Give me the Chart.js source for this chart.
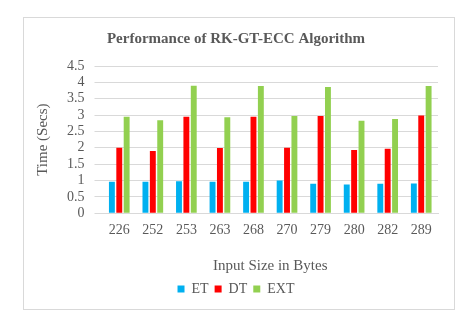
<!DOCTYPE html>
<html>
<head>
<meta charset="utf-8">
<script src="https://cdn.jsdelivr.net/npm/chart.js@4"></script>
<style>
  html, body { margin: 0; padding: 0; background: #fff; }
  #frame {
    position: absolute; left: 23px; top: 17px;
    width: 430px; height: 291px;
    border: 1px solid #d9d9d9;
  }
</style>
</head>
<body>
<div id="frame"><canvas id="chart"></canvas></div>
<script>
const sizes = ['226', '252', '253', '263', '268', '270', '279', '280', '282', '289'];
const etTimes = [0.96, 0.96, 0.975, 0.96, 0.96, 1.0, 0.9, 0.88, 0.9, 0.91];
const dtTimes = [2.0, 1.9, 2.95, 1.99, 2.95, 2.0, 2.97, 1.93, 1.97, 2.99];
const extTimes = [2.95, 2.84, 3.9, 2.93, 3.89, 2.97, 3.86, 2.83, 2.88, 3.89];
const yTicks = [0, 0.5, 1, 1.5, 2, 2.5, 3, 3.5, 4, 4.5];

const serif = "'Liberation Serif', 'Times New Roman', serif";
const grey = '#595959';

const ctx = document.getElementById('chart').getContext('2d');
new Chart(ctx, {
  type: 'bar',
  data: {
    labels: sizes,
    datasets: [
      { label: 'ET', data: etTimes, backgroundColor: '#00b0f0' },
      { label: 'DT', data: dtTimes, backgroundColor: '#ff0000' },
      { label: 'EXT', data: extTimes, backgroundColor: '#92d050' }
    ]
  },
  options: {
    responsive: true,
    maintainAspectRatio: false,
    animation: false,
    datasets: { bar: { barPercentage: 0.8, categoryPercentage: 0.66 } },
    layout: { padding: { left: 10, right: 16, top: 7, bottom: 3 } },
    plugins: {
      title: {
        display: true,
        text: 'Performance of RK-GT-ECC Algorithm',
        color: grey,
        font: { family: serif, size: 15, weight: 'bold' },
        padding: { top: 5, bottom: 18 }
      },
      legend: {
        position: 'bottom',
        labels: {
          color: grey,
          font: { family: serif, size: 14 },
          boxWidth: 7, boxHeight: 7,
          padding: 6
        }
      },
      tooltip: { enabled: false }
    },
    scales: {
      x: {
        grid: { display: false },
        border: { color: '#d9d9d9' },
        ticks: { color: grey, font: { family: serif, size: 14 }, padding: 1 },
        title: {
          display: true,
          text: 'Input Size in Bytes',
          color: grey,
          font: { family: serif, size: 15 },
          padding: { top: 17, bottom: 1 }
        }
      },
      y: {
        min: 0,
        max: 4.5,
        afterBuildTicks: (axis) => { axis.ticks = yTicks.map(v => ({ value: v })); },
        grid: { color: '#d9d9d9' },
        border: { display: false },
        ticks: {
          color: grey,
          font: { family: serif, size: 14 },
          padding: 10,
          autoSkip: false,
          callback: (v) => String(v)
        },
        title: {
          display: true,
          text: 'Time (Secs)',
          color: grey,
          font: { family: serif, size: 15 },
          padding: { top: 0, bottom: 5 }
        }
      }
    }
  }
});
</script>
</body>
</html>
